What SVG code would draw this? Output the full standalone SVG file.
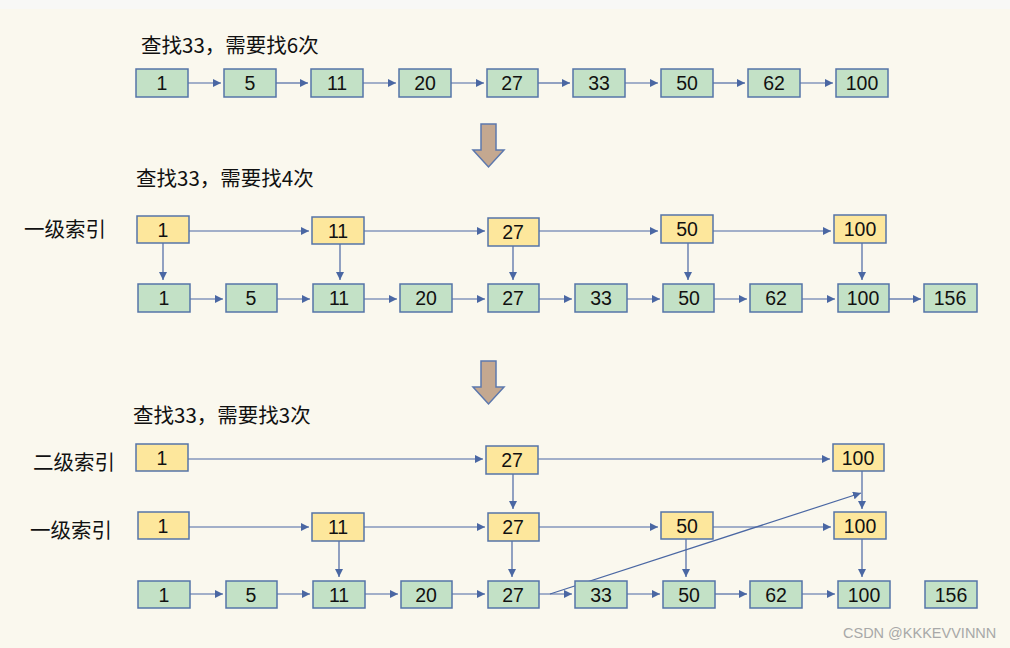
<svg xmlns="http://www.w3.org/2000/svg" width="1010" height="648" viewBox="0 0 1010 648">
<defs>
<style>
.g{fill:#c3e1c6;stroke:#5574a8;stroke-width:1.5}
.y{fill:#fde79c;stroke:#5574a8;stroke-width:1.5}
.t{font-family:"Liberation Sans",Arial,sans-serif;font-size:19.5px;fill:#111;text-anchor:middle}
.h{font-family:"Noto Sans CJK SC","Liberation Sans",sans-serif;font-size:20.5px;fill:#111}
.l{font-family:"Noto Sans CJK SC","Liberation Sans",sans-serif;font-size:20.5px;fill:#111}
.c line{stroke:#4a67a3;stroke-width:1.2;marker-end:url(#ah)}
.da{fill:#c4a890;stroke:#5c78ad;stroke-width:1.5}
</style>
<marker id="ah" viewBox="0 0 10 10" refX="10" refY="5" markerWidth="8" markerHeight="8" markerUnits="userSpaceOnUse" orient="auto">
<path d="M0,0 L10,5 L0,10 z" fill="#4a67a3"/>
</marker>
</defs>
<rect x="0" y="0" width="1010" height="648" fill="#faf8ee"/>
<rect x="0" y="0" width="1010" height="9" fill="#f8f8f6"/>

<text class="h" x="141" y="53">查找33，需要找6次</text>
<text class="h" x="136" y="186">查找33，需要找4次</text>
<text class="h" x="133" y="423">查找33，需要找3次</text>
<text class="l" x="24" y="237">一级索引</text>
<text class="l" x="33" y="470">二级索引</text>
<text class="l" x="30" y="538">一级索引</text>

<g id="down1"><path class="da" d="M481,124 H496 V150 H504 L488.5,167 L473,150 H481 Z"/></g>
<g id="down2"><path class="da" d="M481,361 H496 V387 H504 L488.5,404 L473,387 H481 Z"/></g>

<g class="c" id="connectors">
<line x1="188" y1="83" x2="221" y2="83"/>
<line x1="276" y1="83" x2="308" y2="83"/>
<line x1="363" y1="83" x2="396" y2="83"/>
<line x1="451" y1="83" x2="484" y2="83"/>
<line x1="538" y1="83" x2="570" y2="83"/>
<line x1="625" y1="83" x2="658" y2="83"/>
<line x1="713" y1="83" x2="745" y2="83"/>
<line x1="800" y1="83" x2="833" y2="83"/>
<line x1="189" y1="231" x2="309" y2="231"/>
<line x1="364" y1="231" x2="485" y2="231"/>
<line x1="539" y1="231" x2="658" y2="231"/>
<line x1="713" y1="231" x2="831" y2="231"/>
<line x1="163" y1="243" x2="163" y2="280"/>
<line x1="340" y1="244" x2="340" y2="280"/>
<line x1="513" y1="246" x2="513" y2="280"/>
<line x1="688" y1="243" x2="688" y2="280"/>
<line x1="862" y1="243" x2="862" y2="280"/>
<line x1="190" y1="299" x2="223" y2="299"/>
<line x1="277" y1="299" x2="310" y2="299"/>
<line x1="364" y1="299" x2="397" y2="299"/>
<line x1="452" y1="299" x2="485" y2="299"/>
<line x1="539" y1="299" x2="572" y2="299"/>
<line x1="627" y1="299" x2="660" y2="299"/>
<line x1="714" y1="299" x2="747" y2="299"/>
<line x1="802" y1="299" x2="835" y2="299"/>
<line x1="889" y1="299" x2="921" y2="299"/>
<line x1="188" y1="459" x2="483" y2="459"/>
<line x1="538" y1="459" x2="830" y2="459"/>
<line x1="513" y1="474" x2="513" y2="509"/>
<line x1="862" y1="471" x2="862" y2="509"/>
<line x1="189" y1="527" x2="309" y2="527"/>
<line x1="364" y1="527" x2="485" y2="527"/>
<line x1="539" y1="527" x2="658" y2="527"/>
<line x1="713" y1="527" x2="831" y2="527"/>
<line x1="339" y1="541" x2="339" y2="577"/>
<line x1="512" y1="541" x2="512" y2="577"/>
<line x1="686" y1="539" x2="686" y2="577"/>
<line x1="862" y1="539" x2="862" y2="577"/>
<line x1="190" y1="594" x2="223" y2="594"/>
<line x1="277" y1="594" x2="310" y2="594"/>
<line x1="365" y1="594" x2="398" y2="594"/>
<line x1="452" y1="594" x2="485" y2="594"/>
<line x1="539" y1="594" x2="572" y2="594"/>
<line x1="627" y1="594" x2="660" y2="594"/>
<line x1="715" y1="594" x2="747" y2="594"/>
<line x1="802" y1="594" x2="835" y2="594"/>
<line x1="550" y1="594" x2="861" y2="493"/>
</g>

<g id="r1n1"><rect class="g" x="136" y="69" width="52" height="28"/><text class="t" x="162" y="90">1</text></g>
<g id="r1n5"><rect class="g" x="224" y="69" width="52" height="28"/><text class="t" x="250" y="90">5</text></g>
<g id="r1n11"><rect class="g" x="311" y="69" width="52" height="28"/><text class="t" x="337" y="90">11</text></g>
<g id="r1n20"><rect class="g" x="399" y="69" width="52" height="28"/><text class="t" x="425" y="90">20</text></g>
<g id="r1n27"><rect class="g" x="487" y="69" width="51" height="28"/><text class="t" x="512" y="90">27</text></g>
<g id="r1n33"><rect class="g" x="573" y="69" width="52" height="28"/><text class="t" x="599" y="90">33</text></g>
<g id="r1n50"><rect class="g" x="661" y="69" width="52" height="28"/><text class="t" x="687" y="90">50</text></g>
<g id="r1n62"><rect class="g" x="748" y="69" width="52" height="28"/><text class="t" x="774" y="90">62</text></g>
<g id="r1n100"><rect class="g" x="836" y="69" width="52" height="28"/><text class="t" x="862" y="90">100</text></g>

<g id="s2i1"><rect class="y" x="137" y="216" width="52" height="27"/><text class="t" x="163" y="237">1</text></g>
<g id="s2i11"><rect class="y" x="312" y="217" width="52" height="27"/><text class="t" x="338" y="238">11</text></g>
<g id="s2i27"><rect class="y" x="488" y="218" width="51" height="28"/><text class="t" x="513" y="239">27</text></g>
<g id="s2i50"><rect class="y" x="661" y="215" width="52" height="28"/><text class="t" x="687" y="236">50</text></g>
<g id="s2i100"><rect class="y" x="834" y="215" width="52" height="28"/><text class="t" x="860" y="236">100</text></g>

<g id="s2b1"><rect class="g" x="138" y="284" width="52" height="28"/><text class="t" x="164" y="305">1</text></g>
<g id="s2b5"><rect class="g" x="226" y="284" width="51" height="28"/><text class="t" x="251" y="305">5</text></g>
<g id="s2b11"><rect class="g" x="313" y="284" width="51" height="28"/><text class="t" x="339" y="305">11</text></g>
<g id="s2b20"><rect class="g" x="400" y="284" width="52" height="28"/><text class="t" x="426" y="305">20</text></g>
<g id="s2b27"><rect class="g" x="488" y="284" width="51" height="28"/><text class="t" x="513" y="305">27</text></g>
<g id="s2b33"><rect class="g" x="575" y="284" width="52" height="28"/><text class="t" x="601" y="305">33</text></g>
<g id="s2b50"><rect class="g" x="663" y="284" width="51" height="28"/><text class="t" x="689" y="305">50</text></g>
<g id="s2b62"><rect class="g" x="750" y="284" width="52" height="28"/><text class="t" x="776" y="305">62</text></g>
<g id="s2b100"><rect class="g" x="838" y="284" width="51" height="28"/><text class="t" x="863" y="305">100</text></g>
<g id="s2b156"><rect class="g" x="924" y="284" width="53" height="28"/><text class="t" x="950" y="305">156</text></g>

<g id="s3j1"><rect class="y" x="136" y="444" width="52" height="27"/><text class="t" x="162" y="465">1</text></g>
<g id="s3j27"><rect class="y" x="486" y="446" width="52" height="28"/><text class="t" x="512" y="467">27</text></g>
<g id="s3j100"><rect class="y" x="833" y="444" width="51" height="27"/><text class="t" x="858" y="465">100</text></g>

<g id="s3i1"><rect class="y" x="138" y="512" width="51" height="27"/><text class="t" x="163" y="533">1</text></g>
<g id="s3i11"><rect class="y" x="312" y="513" width="52" height="28"/><text class="t" x="338" y="534">11</text></g>
<g id="s3i27"><rect class="y" x="488" y="513" width="51" height="28"/><text class="t" x="513" y="534">27</text></g>
<g id="s3i50"><rect class="y" x="661" y="512" width="52" height="27"/><text class="t" x="687" y="533">50</text></g>
<g id="s3i100"><rect class="y" x="834" y="512" width="52" height="27"/><text class="t" x="860" y="533">100</text></g>

<g id="s3b1"><rect class="g" x="138" y="581" width="52" height="27"/><text class="t" x="164" y="602">1</text></g>
<g id="s3b5"><rect class="g" x="226" y="581" width="51" height="27"/><text class="t" x="251" y="602">5</text></g>
<g id="s3b11"><rect class="g" x="313" y="581" width="52" height="27"/><text class="t" x="339" y="602">11</text></g>
<g id="s3b20"><rect class="g" x="401" y="581" width="51" height="27"/><text class="t" x="426" y="602">20</text></g>
<g id="s3b27"><rect class="g" x="488" y="581" width="51" height="27"/><text class="t" x="513" y="602">27</text></g>
<g id="s3b33"><rect class="g" x="575" y="581" width="52" height="27"/><text class="t" x="601" y="602">33</text></g>
<g id="s3b50"><rect class="g" x="663" y="581" width="52" height="27"/><text class="t" x="689" y="602">50</text></g>
<g id="s3b62"><rect class="g" x="750" y="581" width="52" height="27"/><text class="t" x="776" y="602">62</text></g>
<g id="s3b100"><rect class="g" x="838" y="581" width="52" height="27"/><text class="t" x="864" y="602">100</text></g>
<g id="s3b156"><rect class="g" x="925" y="581" width="52" height="27"/><text class="t" x="951" y="602">156</text></g>

<text x="843" y="638" font-family="'Liberation Sans',Arial,sans-serif" font-size="14.5" fill="#a8a8a8">CSDN @KKKEVVINNN</text>
</svg>
